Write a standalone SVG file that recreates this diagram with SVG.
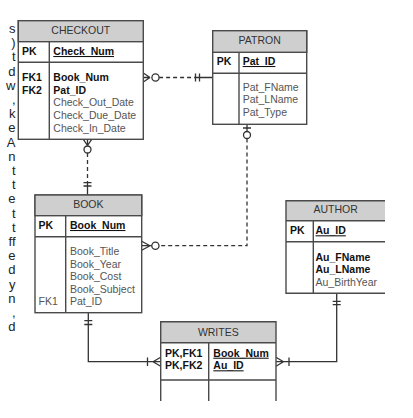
<svg xmlns="http://www.w3.org/2000/svg" width="413" height="418" viewBox="0 0 413 418">
<style>
text{font-family:"Liberation Sans",Arial,sans-serif;font-size:10.5px}
.hd{fill:#333;text-anchor:middle}
.k{fill:#111;font-weight:bold}
.u{text-decoration:underline}
.a{fill:#555}
.bx{fill:#fff;stroke:#4a4a4a;stroke-width:1.4}
.hf{fill:#cfcfcf;stroke:#4a4a4a;stroke-width:1.4}
.ln{stroke:#4a4a4a;stroke-width:1.4;fill:none}
.c{stroke:#333;stroke-width:1.3;fill:none}
.d{stroke-dasharray:4,3}
.o{fill:#fff;stroke:#333;stroke-width:1.3}
.side{font-size:13px;fill:#222;text-anchor:end}
</style>
<rect width="413" height="418" fill="#fff"/>
<g id="sidetext">
<text class="side" x="15.5" y="33">s</text>
<text class="side" x="15.5" y="47.2">)</text>
<text class="side" x="15.5" y="61.4">t</text>
<text class="side" x="15.5" y="75.6">d</text>
<text class="side" x="15.5" y="89.8">w</text>
<text class="side" x="15.5" y="104">,</text>
<text class="side" x="15.5" y="118.2">k</text>
<text class="side" x="15.5" y="132.4">e</text>
<text class="side" x="15.5" y="146.6">A</text>
<text class="side" x="15.5" y="160.8">n</text>
<text class="side" x="15.5" y="175">t</text>
<text class="side" x="15.5" y="189.2">t</text>
<text class="side" x="15.5" y="203.4">e</text>
<text class="side" x="15.5" y="217.6">t</text>
<text class="side" x="15.5" y="231.8">t</text>
<text class="side" x="15.5" y="246">ff</text>
<text class="side" x="15.5" y="260.2">e</text>
<text class="side" x="15.5" y="274.4">d</text>
<text class="side" x="15.5" y="288.6">y</text>
<text class="side" x="15.5" y="302.8">n</text>
<text class="side" x="15.5" y="317">,</text>
<text class="side" x="15.5" y="331.2">d</text>
</g>
<g id="connectors">
<!-- CHECKOUT - PATRON -->
<path class="c" d="M143.3,73 L150,77.5 M143.3,82 L150,77.5 M143.3,77.5 L150,77.5"/>
<circle class="o" cx="155.5" cy="77.5" r="3.6"/>
<path class="c d" d="M159.1,77.5 H195.5"/>
<path class="c" d="M195.5,77.5 H212.7 M195.5,73.5 V81.5 M199.5,73.5 V81.5"/>
<!-- CHECKOUT - BOOK -->
<path class="c" d="M83.3,139.3 L87.5,145.5 M91.7,139.3 L87.5,145.5 M87.5,139.3 V145.5"/>
<circle class="o" cx="87.5" cy="149.5" r="3.5"/>
<path class="c d" d="M87.5,153 V182.5"/>
<path class="c" d="M87.5,182.5 V195 M83.5,182.7 H91.5 M83.5,186 H91.5"/>
<!-- PATRON - BOOK -->
<path class="c" d="M247,124.3 V131.5 M243,128 H251"/>
<circle class="o" cx="247" cy="135" r="3.5"/>
<path class="c d" d="M247,138.5 V245.7 H159"/>
<circle class="o" cx="155.4" cy="245.7" r="3.6"/>
<path class="c" d="M141.7,241.2 L150,245.7 M141.7,250.2 L150,245.7 M141.7,245.7 L151.8,245.7"/>
<!-- BOOK - WRITES -->
<path class="c" d="M88.3,312.7 V361.7 H160.7 M84.3,320.7 H92.3 M84.3,324.5 H92.3 M147.5,357.5 V366 M153,361.7 L160.7,357.2 M153,361.7 L160.7,366.2"/>
<!-- AUTHOR - WRITES -->
<path class="c" d="M336.7,293.3 V361.7 H276 M332.7,301.3 H340.7 M332.7,304.7 H340.7 M289,357.5 V366 M283.5,361.7 L276,357.2 M283.5,361.7 L276,366.2"/>
</g>
<g id="checkout">
<rect class="bx" x="18.3" y="20.7" width="125" height="118.6"/>
<rect class="hf" x="18.3" y="20.7" width="125" height="21"/>
<path class="ln" d="M18.3,62.3 H143.3 M49.3,41.7 V139.3"/>
<text class="hd" x="80.8" y="34.3">CHECKOUT</text>
<text class="k" x="22" y="55">PK</text>
<text class="k u" x="53.3" y="55">Check_Num</text>
<text class="k" x="22" y="81">FK1</text>
<text class="k" x="22" y="93.7">FK2</text>
<text class="k" x="53.3" y="81">Book_Num</text>
<text class="k" x="53.3" y="93.7">Pat_ID</text>
<text class="a" x="53.3" y="106.3">Check_Out_Date</text>
<text class="a" x="53.3" y="119">Check_Due_Date</text>
<text class="a" x="53.3" y="131.7">Check_In_Date</text>
</g>
<g id="patron">
<rect class="bx" x="212.7" y="30.7" width="94" height="93.6"/>
<rect class="hf" x="212.7" y="30.7" width="94" height="21.6"/>
<path class="ln" d="M212.7,73.3 H306.7 M239,52.3 V124.3"/>
<text class="hd" x="259.7" y="44.3">PATRON</text>
<text class="k" x="216.7" y="65">PK</text>
<text class="k u" x="242.7" y="65">Pat_ID</text>
<text class="a" x="242.7" y="90.7">Pat_FName</text>
<text class="a" x="242.7" y="103.3">Pat_LName</text>
<text class="a" x="242.7" y="116">Pat_Type</text>
</g>
<g id="book">
<rect class="bx" x="35" y="195" width="106.7" height="117.7"/>
<rect class="hf" x="35" y="195" width="106.7" height="20.7"/>
<path class="ln" d="M35,236.7 H141.7 M65.7,215.7 V312.7"/>
<text class="hd" x="88.3" y="207.7">BOOK</text>
<text class="k" x="38.5" y="229">PK</text>
<text class="k u" x="70" y="229">Book_Num</text>
<text class="a" x="70" y="255">Book_Title</text>
<text class="a" x="70" y="267.6">Book_Year</text>
<text class="a" x="70" y="280.2">Book_Cost</text>
<text class="a" x="70" y="292.8">Book_Subject</text>
<text class="a" x="38.5" y="305.4">FK1</text>
<text class="a" x="70" y="305.4">Pat_ID</text>
</g>
<g id="author">
<rect x="286" y="200.7" width="99" height="92.6" fill="#fff"/>
<rect x="286" y="200.7" width="99" height="20" fill="#cfcfcf"/>
<path class="ln" d="M385,200.7 H286 V293.3 H385 M286,220.7 H385 M286,241.7 H385 M313.3,220.7 V293.3"/>
<text class="hd" x="335.7" y="213.3">AUTHOR</text>
<text class="k" x="290" y="234.3">PK</text>
<text class="k u" x="315.5" y="234.3">Au_ID</text>
<text class="k" x="315.5" y="260.7">Au_FName</text>
<text class="k" x="315.5" y="273.2">Au_LName</text>
<text class="a" x="315.5" y="285.7">Au_BirthYear</text>
</g>
<g id="writes">
<rect x="160.7" y="321.7" width="115.3" height="79.3" fill="#fff"/>
<rect x="160.7" y="321.7" width="115.3" height="21" fill="#cfcfcf"/>
<path class="ln" d="M160.7,401 V321.7 H276 V401 M160.7,342.7 H276 M160.7,380 H276 M208.7,342.7 V401"/>
<text class="hd" x="218.3" y="335.7">WRITES</text>
<text class="k" x="165" y="356.7">PK,FK1</text>
<text class="k" x="165" y="369.3">PK,FK2</text>
<text class="k u" x="213.3" y="356.7">Book_Num</text>
<text class="k u" x="213.3" y="369.3">Au_ID</text>
</g>
</svg>
